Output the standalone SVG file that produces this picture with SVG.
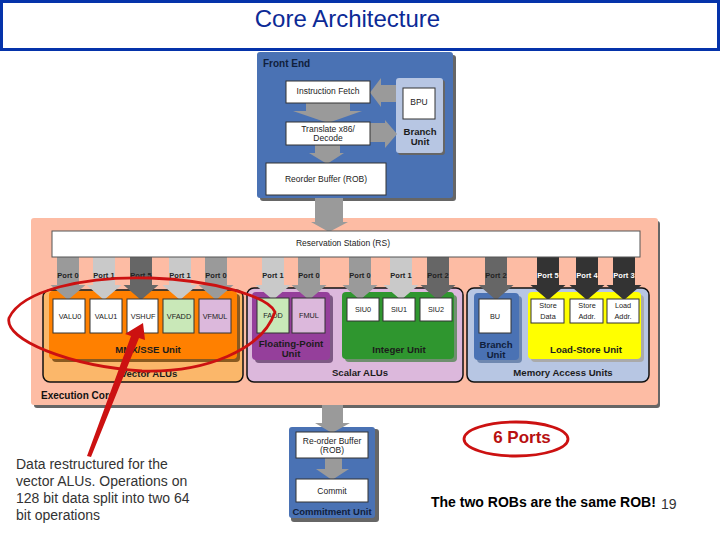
<svg xmlns="http://www.w3.org/2000/svg" width="720" height="540" viewBox="0 0 720 540">
<style>
text{font-family:"Liberation Sans",Arial,sans-serif;fill:#111}
.s{font-size:8.500px;text-anchor:middle;fill:#222}
.c{font-size:7.300px;text-anchor:middle;fill:#222}
.p{font-size:7.500px;font-weight:bold;text-anchor:middle;fill:#222}
.pw{font-size:7.500px;font-weight:bold;text-anchor:middle;fill:#fff}
.u{font-size:9.600px;font-weight:bold;text-anchor:middle;fill:#1c1c1c}
.n{font-size:14px;fill:#333}
.box{fill:#fff;stroke:#333;stroke-width:1}
.sh{fill:#666}
.blue{fill:#4a72b4}
.a1{fill:#c9c9c9}.a2{fill:#9a9a9a}.a3{fill:#666}.a4{fill:#333}
.red{fill:none;stroke:#cc1111;stroke-width:2.800}
</style>
<defs>
<path id="pa" d="M-11 0H11V28H17.500L0 43L-17.500 28H-11Z"/>
</defs>
<g id="title">
<rect x="1.500" y="1.500" width="717" height="48" fill="#fff" stroke="#0533aa" stroke-width="3"/>
<text x="347.500" y="26.500" font-size="24" text-anchor="middle" style="fill:#0c2a96">Core Architecture</text>
</g>
<g id="containers">
<g id="front-end">
<rect class="sh" x="260" y="55" width="196" height="146" rx="3"/>
<rect class="blue" x="257" y="52" width="196" height="146" rx="3"/>
<text x="263" y="67" font-size="10" font-weight="bold" style="fill:#10203c">Front End</text>
</g>
<g id="branch-unit">
<rect class="sh" x="398" y="80" width="47" height="75" rx="3"/>
<rect x="396" y="78" width="47" height="75" rx="3" fill="#b7c6e3"/>
<text class="u" x="420" y="135">Branch</text>
<text class="u" x="420" y="145">Unit</text>
</g>
<g id="execution-core">
<rect class="sh" x="34" y="221" width="626" height="187" rx="3"/>
<rect x="31" y="218" width="627" height="187" rx="3" fill="#fdbca4"/>
<text x="41" y="399" font-size="10" font-weight="bold" style="fill:#111">Execution Core</text>
</g>
<g id="vector-alus">
<rect x="43" y="290" width="200" height="92" rx="7" fill="#fbb76a" stroke="#111" stroke-width="1.500"/>
<text class="u" x="149" y="377">Vector ALUs</text>
</g>
<g id="mmx-unit">
<rect x="52" y="294" width="188" height="68" rx="4" fill="#8a5a20"/>
<rect x="49" y="291" width="188" height="68" rx="4" fill="#ff8000"/>
<text class="u" x="148" y="353">MMX/SSE Unit</text>
</g>
<g id="scalar-alus">
<rect x="247" y="288" width="216" height="94" rx="7" fill="#dcb8dc" stroke="#111" stroke-width="1.500"/>
<text class="u" x="360" y="376">Scalar ALUs</text>
</g>
<g id="fp-unit">
<rect x="255" y="295" width="78" height="68" rx="4" fill="#7d5a84"/>
<rect x="252" y="292" width="78" height="68" rx="4" fill="#953f9b"/>
<text class="u" x="291" y="347">Floating-Point</text>
<text class="u" x="291" y="357">Unit</text>
</g>
<g id="integer-unit">
<rect x="345" y="295" width="112" height="67" rx="4" fill="#6f8f6f"/>
<rect x="342" y="292" width="112" height="67" rx="4" fill="#2f962f"/>
<text class="u" x="399" y="353">Integer Unit</text>
</g>
<g id="memory-units">
<rect x="467" y="288" width="182" height="94" rx="7" fill="#b7c6e3" stroke="#111" stroke-width="1.500"/>
<text class="u" x="563" y="376">Memory Access Units</text>
</g>
<g id="mem-branch-unit">
<rect x="477" y="296" width="45" height="67" rx="4" fill="#6f88b0"/>
<rect x="474" y="293" width="45" height="67" rx="4" class="blue"/>
<text class="u" x="496" y="348" style="fill:#10203c">Branch</text>
<text class="u" x="496" y="358" style="fill:#10203c">Unit</text>
</g>
<g id="load-store-unit">
<rect x="531" y="295" width="113" height="67" rx="4" fill="#aaa"/>
<rect x="528" y="292" width="113" height="67" rx="4" fill="#ffff00"/>
<text class="u" x="586" y="353">Load-Store Unit</text>
</g>
<g id="commitment-unit">
<rect class="sh" x="291" y="429" width="88" height="93" rx="3"/>
<rect class="blue" x="289" y="427" width="86" height="91" rx="3"/>
<text class="u" x="332" y="515" style="fill:#10203c;font-size:9.500px">Commitment Unit</text>
</g>
</g>
<g id="connectors">
<path class="a2" d="M306 103H350V111H362L328 123L293 111H306Z"/>
<path class="a2" d="M315 145H340V153H344L327 164L309 153H315Z"/>
<path class="a2" d="M396 85V102H381V107L370 92.500L381 78V85Z"/>
<path class="a2" d="M370 123H385V120L397 134L385 148V142H370Z"/>
<path class="a2" d="M315 198H343V222H348L329 232L311 222H315Z"/>
<path class="a2" d="M322 405H343V423H350L332 433L315 423H322Z"/>
<path class="a2" d="M325 458H342V469H349L332 480L316 469H325Z"/>
<use href="#pa" class="a2" x="68" y="257"/>
<use href="#pa" class="a1" x="104" y="257"/>
<use href="#pa" class="a3" x="141" y="257"/>
<use href="#pa" class="a1" x="180" y="257"/>
<use href="#pa" class="a2" x="216" y="257"/>
<use href="#pa" class="a1" x="273" y="257"/>
<use href="#pa" class="a2" x="309" y="257"/>
<use href="#pa" class="a2" x="360" y="257"/>
<use href="#pa" class="a1" x="401" y="257"/>
<use href="#pa" class="a3" x="438" y="257"/>
<use href="#pa" class="a3" x="496" y="257"/>
<use href="#pa" class="a4" x="548" y="257"/>
<use href="#pa" class="a4" x="587" y="257"/>
<use href="#pa" class="a4" x="624" y="257"/>
</g>
<g id="port-labels">
<text class="p" x="68" y="278">Port 0</text>
<text class="p" x="104" y="278">Port 1</text>
<text class="p" x="141" y="278">Port 5</text>
<text class="p" x="180" y="278">Port 1</text>
<text class="p" x="216" y="278">Port 0</text>
<text class="p" x="273" y="278">Port 1</text>
<text class="p" x="309" y="278">Port 0</text>
<text class="p" x="360" y="278">Port 0</text>
<text class="p" x="401" y="278">Port 1</text>
<text class="p" x="438" y="278">Port 2</text>
<text class="p" x="496" y="278">Port 2</text>
<text class="pw" x="548" y="278">Port 5</text>
<text class="pw" x="587" y="278">Port 4</text>
<text class="pw" x="624" y="278">Port 3</text>
</g>
<g id="instruction-fetch"><rect class="box" x="286" y="81" width="84" height="22"/><text class="s" x="328" y="94">Instruction Fetch</text></g>
<g id="translate"><rect class="box" x="286" y="122" width="84" height="23"/><text class="s" x="328" y="132">Translate x86/</text><text class="s" x="328" y="141">Decode</text></g>
<g id="bpu"><rect class="box" x="403" y="88" width="32" height="31"/><text class="s" x="419" y="105">BPU</text></g>
<g id="rob-front"><rect class="box" x="266" y="163" width="120" height="32"/><text class="s" x="326" y="182">Reorder Buffer (ROB)</text></g>
<g id="rs"><rect x="52" y="231" width="588" height="26" fill="#fff" stroke="#555"/><text class="s" x="343" y="246">Reservation Station (RS)</text></g>
<g id="valu0"><rect class="box" x="53" y="299" width="32" height="34"/><text class="c" x="70" y="319">VALU0</text></g>
<g id="valu1"><rect class="box" x="90" y="299" width="32" height="34"/><text class="c" x="106" y="319">VALU1</text></g>
<g id="vshuf"><rect class="box" x="127" y="299" width="31" height="34"/><text class="c" x="143" y="319">VSHUF</text></g>
<g id="vfadd"><rect class="box" x="163" y="299" width="31" height="34" style="fill:#c9e8b8"/><text class="c" x="179" y="319">VFADD</text></g>
<g id="vfmul"><rect class="box" x="199" y="299" width="32" height="34" style="fill:#dcb8dc"/><text class="c" x="215" y="319">VFMUL</text></g>
<g id="fadd"><rect class="box" x="257" y="298" width="32" height="35" style="fill:#c9e8b8"/><text class="c" x="273" y="318">FADD</text></g>
<g id="fmul"><rect class="box" x="292" y="298" width="33" height="35" style="fill:#dcb8dc"/><text class="c" x="309" y="318">FMUL</text></g>
<g id="siu0"><rect class="box" x="347" y="298" width="32" height="23"/><text class="c" x="363" y="312">SIU0</text></g>
<g id="siu1"><rect class="box" x="383" y="298" width="32" height="23"/><text class="c" x="399" y="312">SIU1</text></g>
<g id="siu2"><rect class="box" x="420" y="298" width="32" height="23"/><text class="c" x="436" y="312">SIU2</text></g>
<g id="bu"><rect class="box" x="479" y="299" width="32" height="34"/><text class="c" x="495" y="319">BU</text></g>
<g id="store-data"><rect class="box" x="531" y="299" width="33" height="24"/><text class="c" x="548" y="308">Store</text><text class="c" x="548" y="319">Data</text></g>
<g id="store-addr"><rect class="box" x="570" y="299" width="33" height="24"/><text class="c" x="587" y="308">Store</text><text class="c" x="587" y="319">Addr.</text></g>
<g id="load-addr"><rect class="box" x="607" y="299" width="32" height="24"/><text class="c" x="623" y="308">Load</text><text class="c" x="623" y="319">Addr.</text></g>
<g id="rob-commit"><rect class="box" x="296" y="432" width="72" height="26"/><text class="s" x="332" y="444">Re-order Buffer</text><text class="s" x="332" y="453">(ROB)</text></g>
<g id="commit"><rect class="box" x="296" y="479" width="72" height="23"/><text class="s" x="332" y="494">Commit</text></g>
<g id="annotations">
<path class="red" d="M275 312C268 297 215 280 150 278C85 276 22 290 9 318C4 340 70 366 142 371C205 373 262 350 275 312Z"/>
<path d="M87 456L131 336L125 334L143 323L145 340L139 338L91 457Z" fill="#cc1111"/>
<ellipse class="red" cx="516" cy="439" rx="52" ry="17"/>
<text x="522" y="443" font-size="17" font-weight="bold" text-anchor="middle" style="fill:#b81010">6 Ports</text>
<text class="n"><tspan x="16" y="469">Data restructured for the</tspan><tspan x="16" y="486">vector ALUs. Operations on</tspan><tspan x="16" y="503">128 bit data split into two 64</tspan><tspan x="16" y="520">bit operations</tspan></text>
<text x="431" y="507" font-size="14" font-weight="bold" style="fill:#000">The two ROBs are the same ROB!</text>
<text x="661" y="509" font-size="14" style="fill:#333">19</text>
</g>
</svg>
